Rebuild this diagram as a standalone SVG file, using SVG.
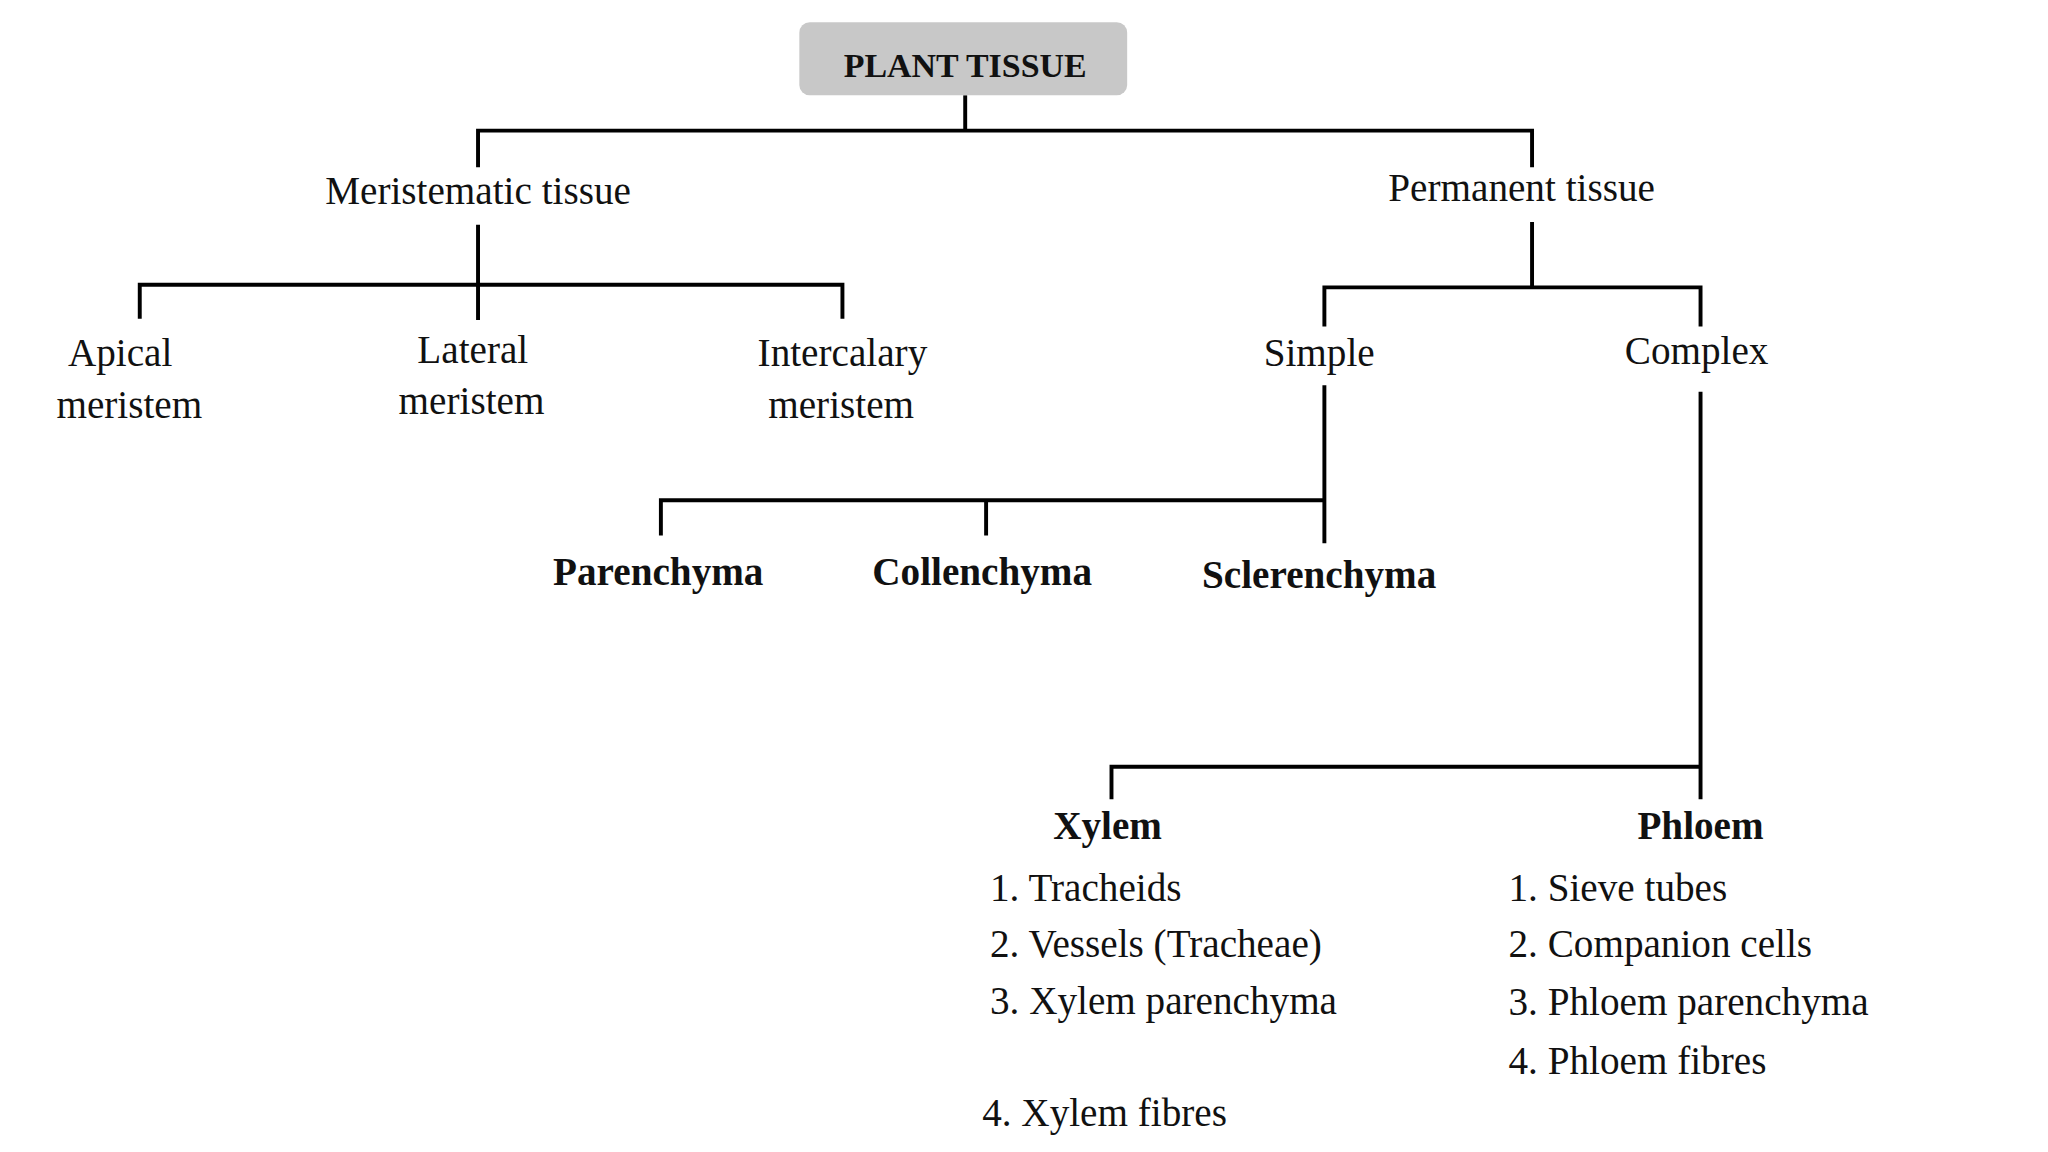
<svg xmlns="http://www.w3.org/2000/svg" width="2048" height="1152" viewBox="0 0 2048 1152">
<style>
text{font-family:"Liberation Serif","Times New Roman",serif;font-size:30px;fill:#111}
.c{text-anchor:middle}
.b{font-weight:bold}
.l{stroke:#000;stroke-width:3;fill:none}
</style>
<rect width="2048" height="1152" fill="#fff"/>
<g transform="scale(1.3061)">
<g id="connectors">
<path class="l" d="M739 73V100M366 128V100H1173V128"/>
<path class="l" d="M366 172V245M107 244V218H645V244"/>
<path class="l" d="M1173 170V220M1014 250V220H1302V250"/>
<path class="l" d="M1014 295V416M506 410V383H1014M755 383V410"/>
<path class="l" d="M1302 300V612M851 612V587H1302"/>
</g>
<g id="root"><rect x="612" y="17" width="251" height="56" rx="8" fill="#c8c8c8"/><text class="c b" x="739" y="59" style="font-size:26px">PLANT TISSUE</text></g>
<g id="meristematic"><text class="c" x="366" y="156">Meristematic tissue</text></g>
<g id="permanent"><text class="c" x="1165" y="154">Permanent tissue</text></g>
<g id="apical"><text class="c" x="92" y="280">Apical</text><text class="c" x="99" y="320">meristem</text></g>
<g id="lateral"><text class="c" x="362" y="278">Lateral</text><text class="c" x="361" y="317">meristem</text></g>
<g id="intercalary"><text class="c" x="645" y="280">Intercalary</text><text class="c" x="644" y="320">meristem</text></g>
<g id="simple"><text class="c" x="1010" y="280">Simple</text></g>
<g id="complex"><text class="c" x="1299" y="279">Complex</text></g>
<g id="parenchyma"><text class="c b" x="504" y="448">Parenchyma</text></g>
<g id="collenchyma"><text class="c b" x="752" y="448">Collenchyma</text></g>
<g id="sclerenchyma"><text class="c b" x="1010" y="450">Sclerenchyma</text></g>
<g id="xylem"><text class="c b" x="848" y="642">Xylem</text>
<text x="758" y="690">1. Tracheids</text><text x="758" y="733">2. Vessels (Tracheae)</text><text x="758" y="776">3. Xylem parenchyma</text><text x="752" y="862">4. Xylem fibres</text></g>
<g id="phloem"><text class="c b" x="1302" y="642">Phloem</text>
<text x="1155" y="690">1. Sieve tubes</text><text x="1155" y="733">2. Companion cells</text><text x="1155" y="777">3. Phloem parenchyma</text><text x="1155" y="822">4. Phloem fibres</text></g>
</g>
</svg>
